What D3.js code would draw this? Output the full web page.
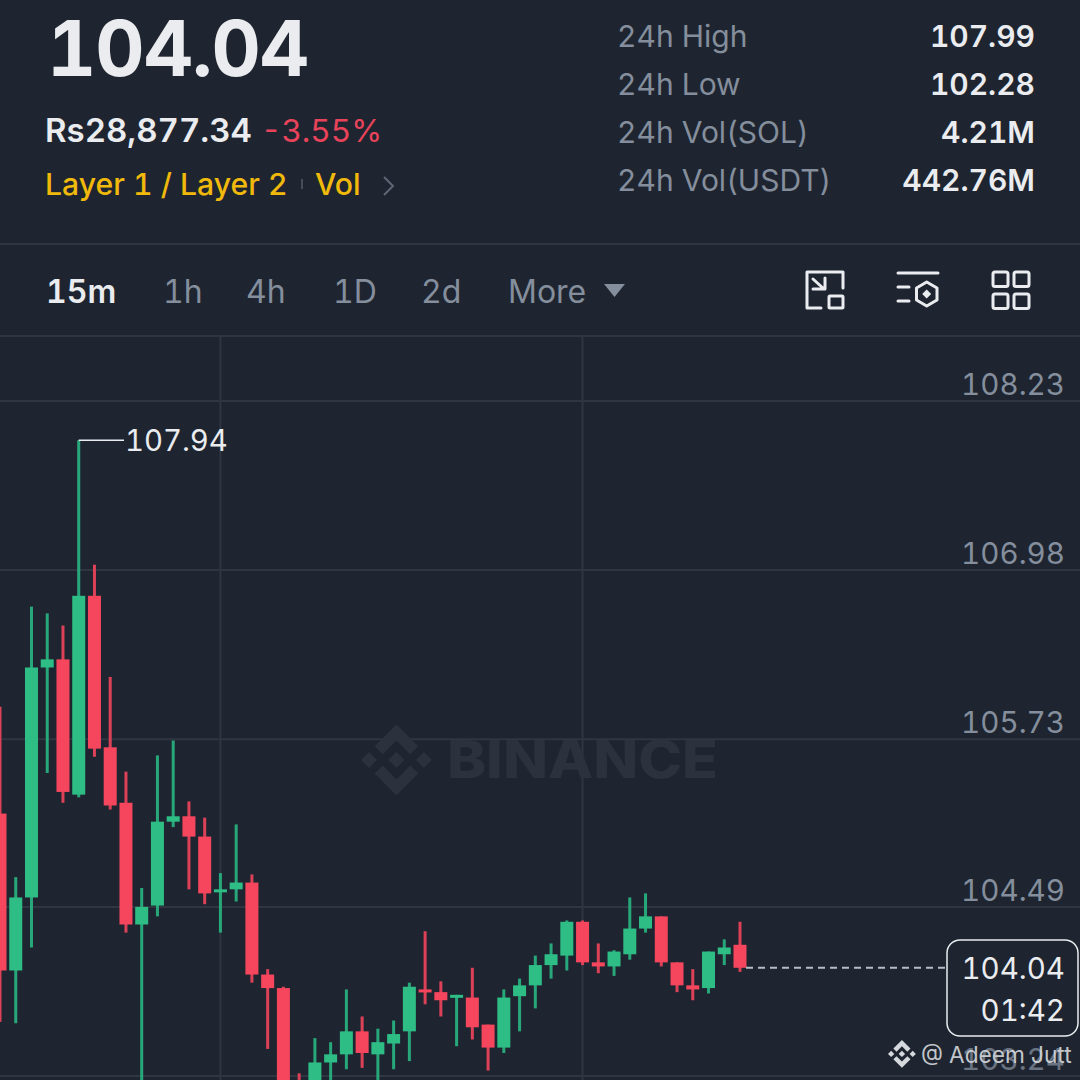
<!DOCTYPE html>
<html><head><meta charset="utf-8">
<script src="https://cdn.jsdelivr.net/npm/d3@7/dist/d3.min.js"></script>
<style>html,body{margin:0;padding:0;background:#1e2530}svg{display:block}text{font-family:Inter,"Noto Sans",sans-serif;font-variant-numeric:tabular-nums}</style>
</head><body><svg id="c" width="1080" height="1080"></svg>
<script>
const opens =[105.18,104.02,104.56,106.26,106.32,105.32,106.79,105.67,105.26,104.36,104.50,105.12,105.16,105.01,104.60,104.62,104.67,103.99,103.89,103.17,103.10,103.34,103.40,103.57,103.40,103.48,103.57,103.88,103.86,103.82,103.82,103.62,103.45,103.83,103.91,104.06,104.13,104.38,104.08,104.05,104.14,104.33,104.42,104.08,103.91,103.89,104.14,104.21];
const highs =[105.97,104.71,106.71,106.66,106.57,107.94,107.02,106.19,105.49,104.63,105.61,105.72,105.27,105.15,104.74,105.10,104.73,104.03,103.90,103.26,103.52,103.49,103.88,103.68,103.59,103.65,103.93,104.31,103.94,103.84,104.04,103.62,103.88,103.96,104.13,104.22,104.39,104.39,104.22,104.17,104.56,104.59,104.42,104.08,104.03,104.16,104.25,104.38];
const lows  =[103.64,103.63,104.19,105.48,105.26,105.30,105.60,105.21,104.30,103.10,104.42,105.08,104.62,104.51,104.30,104.53,103.93,103.44,103.03,102.99,103.03,103.14,103.29,103.30,103.14,103.29,103.35,103.77,103.68,103.46,103.51,103.28,103.41,103.57,103.74,103.96,104.02,104.06,104.00,103.98,104.10,104.30,104.05,103.86,103.80,103.85,104.06,104.01];
const closes=[104.02,104.56,106.26,106.32,105.34,106.79,105.66,105.24,104.36,104.49,105.12,105.16,105.01,104.59,104.62,104.67,103.99,103.89,103.10,103.06,103.34,103.40,103.57,103.41,103.49,103.55,103.90,103.86,103.80,103.84,103.60,103.45,103.82,103.91,104.06,104.14,104.38,104.08,104.05,104.16,104.33,104.42,104.08,103.91,103.88,104.16,104.19,104.04];
const yTicks=[108.23,106.98,105.73,104.49,103.24];
const xGridIdx=[14,37];
const lastPrice=104.04, countdown="01:42", peakIndex=5, peakValue=107.94;
const headline="104.04", fiat="Rs28,877.34", change="-3.55%", tagA="Layer 1 / Layer 2", tagB="Vol";
const statLabels=["24h High","24h Low","24h Vol(SOL)","24h Vol(USDT)"];
const statValues=["107.99","102.28","4.21M","442.76M"];
const tabs=["15m","1h","4h","1D","2d","More"];
const tabX=[46,163,246,333,421,508];

const BG="#1e2530",GRID="#2f3641",UP="#2ebd85",DN="#f6465d",WHITE="#eaecef",GREY="#848e9c";
const LOGO="M38.73 53.2l24.59-24.58 24.6 24.6 14.3-14.31L63.32 0 24.43 38.9l14.3 14.3zM0 63.31l14.3-14.31 14.31 14.31-14.31 14.3zM38.73 73.41l24.59 24.59 24.6-24.6 14.31 14.29-.01.01-38.9 38.91-38.88-38.9-.02-.02zM98.01 63.31l14.3-14.31 14.3 14.3-14.3 14.31zM77.83 63.3L63.32 48.78 52.59 59.51l-1.24 1.23-2.54 2.54 14.51 14.5 14.51-14.47z";

const svg=d3.select("#c");
svg.append("rect").attr("width",1080).attr("height",1080).attr("fill",BG);
const T=(x,y,s,size,fill,weight=400,anchor="start")=>svg.append("text").attr("x",x).attr("y",y).text(s)
  .attr("font-size",size).attr("fill",fill).attr("font-weight",weight).attr("text-anchor",anchor);

// Header
T(47,76,headline,76.3,WHITE,700).attr("letter-spacing",-1);
T(45,142,fiat,33,WHITE,600);
T(261,142,change,31.5,"#e8435a",400);
T(45,195,tagA,30.2,"#f0b90b",500);
svg.append("rect").attr("x",301).attr("y",179).attr("width",2).attr("height",10).attr("fill","#474d57");
T(315,195,tagB,30.2,"#f0b90b",500);
svg.append("path").attr("d","M384 177l9 9-9 9").attr("fill","none").attr("stroke","#5e6673").attr("stroke-width",2);
statLabels.forEach((s,i)=>{
  T(617,47+48*i,s,30,GREY);
  T(1035,47+48*i,statValues[i],30,WHITE,600,"end");
});
svg.append("rect").attr("x",0).attr("y",243).attr("width",1080).attr("height",2).attr("fill",GRID);
svg.append("rect").attr("x",0).attr("y",335).attr("width",1080).attr("height",2).attr("fill",GRID);
tabs.forEach((s,i)=>T(tabX[i],303,s,32,i===0?WHITE:GREY,i===0?600:400));
svg.append("path").attr("d","M604 284h21l-10.5 13z").attr("fill",GREY);

// Toolbar icons
const ic=svg.append("g").attr("fill","none").attr("stroke",WHITE).attr("stroke-width",3).attr("stroke-linejoin","round").attr("stroke-linecap","round");
ic.append("path").attr("d","M821 308H807V272H843V288");
ic.append("rect").attr("x",829).attr("y",296).attr("width",14).attr("height",12).attr("rx",1);
ic.append("path").attr("d","M813 279L824 289M813 289H825V278");
ic.append("path").attr("d","M898 273H938M898 287H909M898 301H909");
ic.append("path").attr("d","M926.7 282L937 288V300L926.7 306L916.5 300V288Z");
ic.append("path").attr("d","M926.7 289.5L931.2 294L926.7 298.5L922.2 294Z").attr("fill",WHITE).attr("stroke","none");
[[993,272],[1014,272],[993,294],[1014,294]].forEach(p=>ic.append("rect").attr("x",p[0]).attr("y",p[1]).attr("width",15).attr("height",14.5).attr("rx",2));

// Chart
const x=d3.scaleLinear().domain([0,opens.length-1]).range([0,740]);
const y=d3.scaleLinear().domain([yTicks[0],yTicks[4]]).range([401,1076]);
svg.append("defs").append("clipPath").attr("id","plot").append("rect").attr("x",0).attr("y",337).attr("width",1080).attr("height",743);
const plot=svg.append("g").attr("clip-path","url(#plot)");

const gy=plot.append("g").attr("transform","translate(1080,0)").call(d3.axisLeft(y).offset(0).tickValues(yTicks).tickSize(1080).tickFormat(""));
gy.select(".domain").remove();
gy.selectAll("line").attr("stroke",GRID).attr("stroke-width",2);
const gx=plot.append("g").attr("transform","translate(0,1080)").call(d3.axisTop(x).offset(0).tickValues(xGridIdx).tickSize(743).tickFormat(""));
gx.select(".domain").remove();
gx.selectAll("line").attr("stroke",GRID).attr("stroke-width",2);

// Watermark
plot.append("path").attr("d",LOGO).attr("transform","translate(361,724.5) scale(0.56)").attr("fill","#2b313d");
plot.append("text").attr("x",447).attr("y",778).text("BINANCE").attr("font-size",52).attr("font-weight",800)
  .attr("fill","#2b313d").attr("textLength",271).attr("lengthAdjust","spacingAndGlyphs");

// Axis labels
yTicks.forEach(v=>plot.append("text").attr("x",1065).attr("y",y(v)-6).text(v.toFixed(2)).attr("font-size",29.6)
  .attr("fill",GREY).attr("text-anchor","end").attr("opacity",v===103.24?0.75:1));

// Candles
const rows=opens.map((o,i)=>({i,o,h:highs[i],l:lows[i],c:closes[i]}));
const col=d=>d.c>=d.o?UP:DN, wick=d=>d.c>=d.o?"#28a87a":"#dc4158";
const g=plot.append("g").selectAll("g").data(rows).join("g");
g.append("rect").attr("x",d=>x(d.i)-1.5).attr("width",3).attr("y",d=>y(d.h)).attr("height",d=>y(d.l)-y(d.h)).attr("fill",wick);
g.append("rect").attr("x",d=>x(d.i)-6.5).attr("width",13)
  .attr("y",d=>y(Math.max(d.o,d.c))).attr("height",d=>Math.max(3,y(Math.min(d.o,d.c))-y(Math.max(d.o,d.c)))).attr("fill",col);

// Peak marker
plot.append("line").attr("x1",x(peakIndex)).attr("x2",124).attr("y1",y(peakValue)).attr("y2",y(peakValue)).attr("stroke",WHITE).attr("stroke-width",1.5);
plot.append("text").attr("x",125).attr("y",y(peakValue)+11).text(peakValue.toFixed(2)).attr("font-size",29.3).attr("fill",WHITE);

// Last price
plot.append("line").attr("x1",x(opens.length-1)+6).attr("x2",947).attr("y1",y(lastPrice)).attr("y2",y(lastPrice))
  .attr("stroke","#b7bdc6").attr("stroke-width",2).attr("stroke-dasharray","7 5");
svg.append("rect").attr("x",947).attr("y",940).attr("width",131).attr("height",96).attr("rx",13).attr("fill",BG).attr("stroke",WHITE).attr("stroke-width",1.5);
T(1065,979,lastPrice.toFixed(2),29.5,WHITE,400,"end");
T(1065,1021,countdown,29.5,WHITE,400,"end");

// Attribution
svg.append("path").attr("d",LOGO).attr("transform","translate(888,1040) scale(0.22)").attr("fill","#d5d8dc");
T(921,1063,"@ Adeem Jutt",22.7,"#d5d8dc",400).attr("opacity",0.9);
</script></body></html>
